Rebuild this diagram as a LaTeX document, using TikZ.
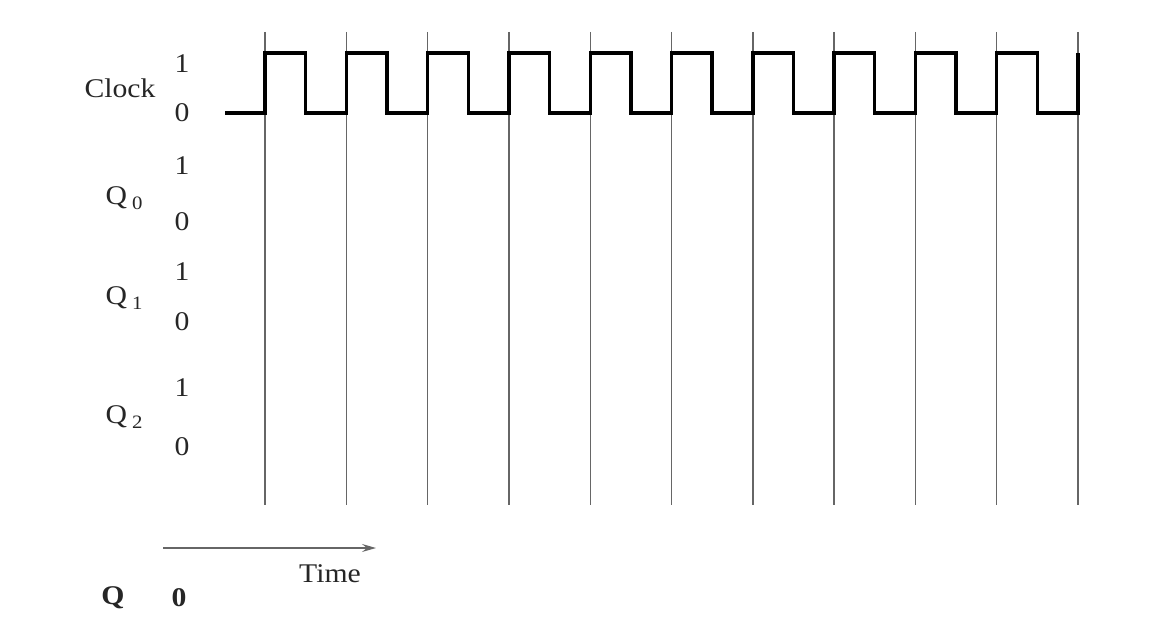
\documentclass[tikz,border=0pt]{standalone}
\usepackage{fontspec}
\setmainfont{Liberation Serif}
\usetikzlibrary{arrows.meta}
\tikzset{
  lbl/.style={inner sep=0pt, text=black!85, font=\fontsize{27}{32}\selectfont},
  grid/.style={draw=black!60, line width=1.4pt},
  clk/.style={draw=black, line width=3.4pt, line join=miter},
  timearrow/.style={draw=black!60, line width=1.5pt, -{Stealth[length=14pt,width=8pt,inset=5pt]}}
}
\newcommand{\hs}[1]{\scalebox{1.1}[1]{#1}}
\begin{document}
\begin{tikzpicture}[x=1pt,y=-1pt]
\useasboundingbox (0,0) rectangle (1172,626);
% vertical time grid
\foreach \i in {0,...,10}{
  \draw[grid] ({265+81.3*\i},32) -- ({265+81.3*\i},505);
}
% clock waveform
\draw[clk] (225,113)
  \foreach \i in {0,...,9}{
    -- ({265+81.3*\i},113) -- ({265+81.3*\i},53) -- ({305.6+81.3*\i},53) -- ({305.6+81.3*\i},113)
  } -- (1078,113) -- (1078,53);
% labels
\node[lbl] (clock) at (120,88) {\hs{Clock}};
\node[lbl] (c1) at (182,64) {\hs{1}};
\node[lbl] (c0) at (182,113) {\hs{0}};
\node[lbl] (q0) at (124,198) {\hs{Q\,\raisebox{-0.45ex}{\scalebox{0.7}{0}}}};
\node[lbl] (q01) at (182,166) {\hs{1}};
\node[lbl] (q00) at (182,222) {\hs{0}};
\node[lbl] (q1) at (124,298) {\hs{Q\,\raisebox{-0.45ex}{\scalebox{0.7}{1}}}};
\node[lbl] (q11) at (182,272) {\hs{1}};
\node[lbl] (q10) at (182,322) {\hs{0}};
\node[lbl] (q2) at (124,417) {\hs{Q\,\raisebox{-0.45ex}{\scalebox{0.7}{2}}}};
\node[lbl] (q21) at (182,388) {\hs{1}};
\node[lbl] (q20) at (182,447) {\hs{0}};
% time arrow
\coordinate (ts) at (163,548);
\coordinate (te) at (376,548);
\draw[timearrow] (ts) -- (te);
\node[lbl] (time) at (330,574) {\hs{Time}};
\node[lbl, font=\fontsize{27}{32}\selectfont\bfseries] (qb) at (113,598) {\hs{Q}};
\node[lbl, font=\fontsize{27}{32}\selectfont\bfseries] (zb) at (179,598) {\hs{0}};
\end{tikzpicture}
\end{document}
